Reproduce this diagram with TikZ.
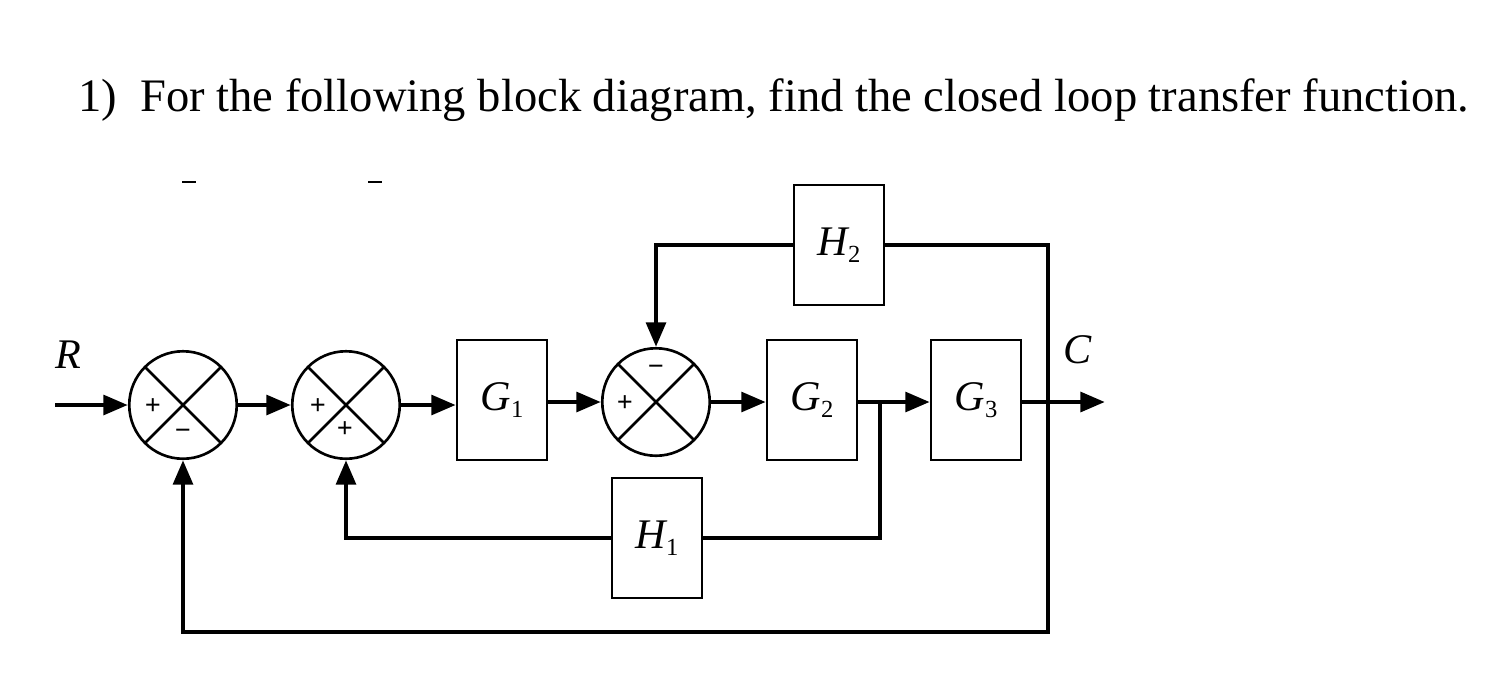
\documentclass[tikz,border=0pt]{standalone}
\usepackage{fontspec}
\setmainfont{Liberation Serif}
\usetikzlibrary{arrows.meta}
\newcommand{\blab}[2]{{\itshape #1}\raisebox{-0.35ex}{\fontsize{14}{16}\selectfont #2}}
\begin{document}
\begin{tikzpicture}[x=0.02cm,y=-0.02cm,
  blk/.style={draw,line width=1.3pt,minimum width=1.8cm,minimum height=2.4cm,inner sep=0,font=\fontsize{24}{26}\selectfont},
  sum/.style={draw,circle,line width=1.5pt,minimum size=2.15cm,inner sep=0,path picture={\draw[line width=1.5pt] (path picture bounding box.south west)--(path picture bounding box.north east) (path picture bounding box.north west)--(path picture bounding box.south east);}},
  sig/.style={line width=2.8pt},
  arr/.style={sig,-{Triangle[length=14pt,width=11pt]}},
  sg/.style={font=\fontsize{16}{18}\selectfont\bfseries,inner sep=0}]
\useasboundingbox (0,0) rectangle (1497,680);
\node[anchor=west,font=\fontsize{26.5}{30}\selectfont] (title) at (72,100) {1)\ \ For the following block diagram, find the closed loop transfer function.};
\draw[line width=1.5pt] (182,182)--(196,182) (368,182)--(382,182);
\node[sum] (s1) at (183,405) {};
\node[sum] (s2) at (346,405) {};
\node[sum] (s3) at (656,402) {};
\node[blk] (g1) at (502,400) {\blab{G}{1}};
\node[blk] (g2) at (812,400) {\blab{G}{2}};
\node[blk] (g3) at (976,400) {\blab{G}{3}};
\node[blk] (h2) at (839,245) {\blab{H}{2}};
\node[blk] (h1) at (657,538) {\blab{H}{1}};
\coordinate (rin) at (55,405);
\coordinate (cout) at (1105,402);
\coordinate (b1) at (1048,402);
\coordinate (b2) at (880,402);
\node[font=\fontsize{24}{26}\selectfont\itshape] (R) at (68,355) {R};
\node[font=\fontsize{24}{26}\selectfont\itshape] (C) at (1078,350) {C};
\draw[arr] (rin)--(s1.west);
\draw[arr] (s1.east)--(s2.west);
\draw[arr] (s2.east)--(g1.west|-s2.east);
\draw[arr] (g1.east|-s3.west)--(s3.west);
\draw[arr] (s3.east)--(g2.west|-s3.east);
\draw[arr] (g2.east|-b2)--(g3.west|-b2);
\draw[arr] (g3.east|-cout)--(cout);
\draw[sig] (b1)|-(h2.east);
\draw[arr] (h2.west)-|(s3.north);
\draw[arr] (b1)|-(183,632)--(s1.south);
\draw[sig] (b2)|-(h1.east);
\draw[arr] (h1.west)-|(s2.south);
\node[sg] (p1) at (153,407) {+};
\node[sg] (m1) at (183,434) {\textminus};
\node[sg] (p2) at (318,407) {+};
\node[sg] (p3) at (345,430) {+};
\node[sg] (p4) at (625,404) {+};
\node[sg] (m3) at (656,370) {\textminus};
\end{tikzpicture}
\end{document}
